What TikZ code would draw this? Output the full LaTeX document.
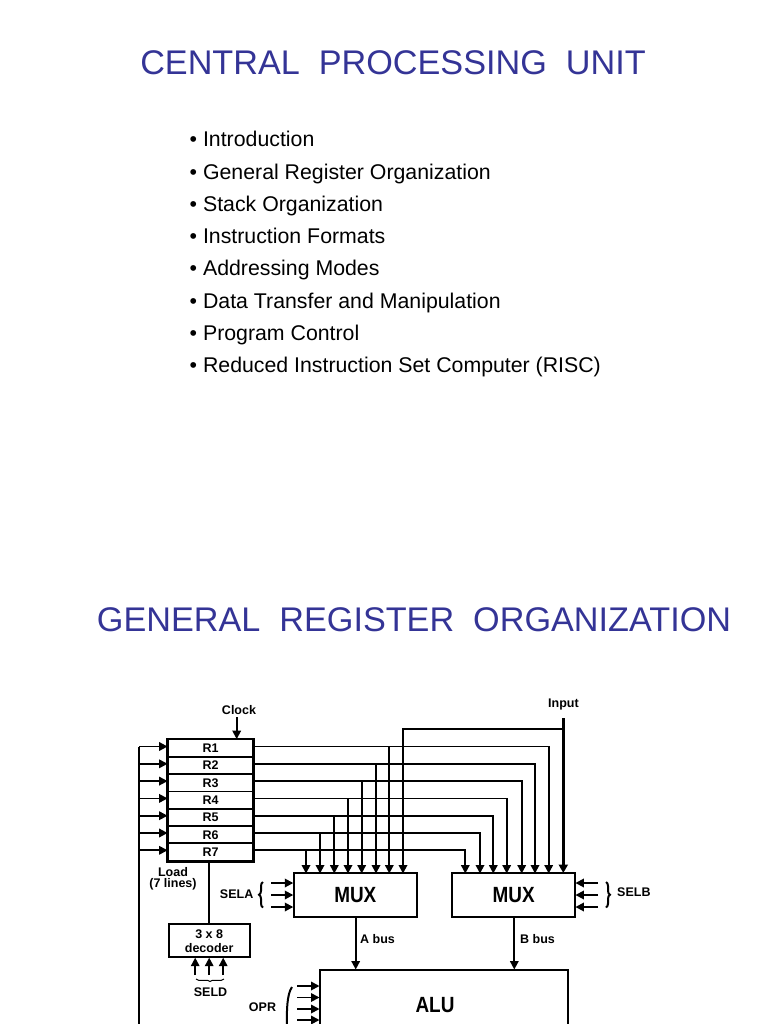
\documentclass[tikz,border=0pt]{standalone}
\usepackage{fontspec}
\setmainfont{Liberation Sans}
\usepackage{xcolor}
\usetikzlibrary{arrows.meta, calc, decorations.pathreplacing}
\definecolor{titleblue}{RGB}{52, 52, 150}
\tikzset{
  slidetitle/.style={text=titleblue, font=\fontsize{34.2}{40}\selectfont, inner sep=0pt},
  topic/.style={anchor=base west, font=\fontsize{21.3}{24}\selectfont, inner sep=0pt},
  smalltext/.style={font=\fontsize{12.5}{10.5}\selectfont\bfseries, inner sep=0pt, align=center},
  bigtext/.style={font=\fontsize{22}{24}\selectfont\bfseries, inner sep=0pt},
  regbox/.style={draw, line width=1.8pt, minimum width=85pt, minimum height=17.3pt, inner sep=0pt,
                 font=\fontsize{12.5}{11}\selectfont\bfseries},
  blockbox/.style={draw, line width=2pt, inner sep=0pt},
  wire/.style={line width=1.8pt},
  arr/.style={wire, -{Triangle[length=8.5pt, width=8.5pt]}, shorten >=-0.5pt},
  curly/.style={line width=2pt, decorate, decoration={brace, amplitude=4pt}},
}
\newcommand{\narrow}[1]{\scalebox{.86}[1]{#1}}
\begin{document}
\begin{tikzpicture}[x=1pt, y=-1pt]
  \useasboundingbox (0,0) rectangle (768,1024);

  % titles
  \node[slidetitle] (title1) at (393,62.5) {CENTRAL\ \ PROCESSING\ \ UNIT};
  \node[slidetitle] (title2) at (414,619.5) {GENERAL\ \ REGISTER\ \ ORGANIZATION};

  % list of topics
  \foreach \i/\t in {0/Introduction, 1/General Register Organization, 2/Stack Organization,
                     3/Instruction Formats, 4/Addressing Modes, 5/Data Transfer and Manipulation,
                     6/Program Control, 7/Reduced Instruction Set Computer (RISC)}
    \node[topic] (topic\i) at (189.5,{147+32.2*\i}) {• \t};

  % register file
  \foreach \r in {1,...,7}
    \node[regbox] (R\r) at (210.5,{748.2+17.3*(\r-1)}) {R\r};
  \draw[line width=2.2pt] (R1.north west) rectangle (R7.south east);

  % blocks
  \node[blockbox, minimum width=123pt, minimum height=44pt] (muxa) at (355.3,894.7) {\narrow{\fontsize{22}{24}\selectfont\bfseries MUX}};
  \node[blockbox, minimum width=122.5pt, minimum height=44pt] (muxb) at (513.7,894.7) {\narrow{\fontsize{22}{24}\selectfont\bfseries MUX}};
  \node[blockbox, minimum width=81pt, minimum height=33pt, font=\fontsize{12.5}{14}\selectfont\bfseries, align=center]
    (dec) at (209.2,940.7) {3 x 8\\decoder};
  \node[blockbox, minimum width=248pt, minimum height=100pt] (alu) at (444,1019.5) {};
  \node[bigtext] (alutext) at (435,1005) {\narrow{ALU}};

  % free ends
  \coordinate (clk) at (236.7,717);
  \coordinate (input) at (563.3,718);
  \coordinate (rail) at (139,746.5);
  \coordinate (railend) at (139,1030);
  \coordinate (abus) at (355.7,969);
  \coordinate (bbus) at (514.3,969);
  \coordinate (ain) at (403,873);
  \coordinate (bin) at (563.3,873);
  \coordinate (abranch) at (403,729.3);

  % clock, input
  \node[smalltext] (clocklabel) at (239,710) {Clock};
  \node[smalltext] (inputlabel) at (563.5,704) {Input};
  \draw[arr] (clk) -- (clk |- R1.north);
  \draw[wire, line width=2.8pt, -{Triangle[length=8.5pt, width=9pt]}] (input) -- (bin);
  \draw[arr] (input |- abranch) -- (abranch) -- (ain);

  % register outputs to both multiplexers
  \foreach \r/\xa/\xb in {1/389.3/548.7, 2/376/535, 3/361.7/521.7, 4/348/506.7,
                          5/334.3/493.3, 6/320/480, 7/306/465.3} {
    \coordinate (out\r) at ([yshift=1.7pt]R\r.east);
    \coordinate (A\r) at (\xa,873);
    \coordinate (B\r) at (\xb,873);
    \draw[arr] (out\r) -| (B\r);
    \draw[arr] (out\r -| A\r) -- (A\r);
  }

  % load lines
  \draw[wire] (rail) -- (railend);
  \foreach \r in {1,...,7} {
    \coordinate (load\r) at ([yshift=1.7pt]R\r.west);
    \draw[arr] (load\r -| rail) -- (load\r);
  }
  \draw[wire] (R7.south -| dec.north) -- (dec.north);
  \node[smalltext] (loadlabel) at (173,879) {Load\\(7 lines)};

  % decoder select
  \foreach \i/\x in {1/-14,2/0,3/14} {
    \coordinate (seld\i) at ($(dec.south)+(\x pt,-17pt)$);
    \draw[arr] (seld\i) -- (seld\i |- dec.south);
  }
  \draw[line width=1pt, decorate, decoration={brace, amplitude=2.5pt, mirror}]
    (196,979) -- (224,979);
  \node[smalltext] (seldlabel) at (210.5,992) {SELD};

  % mux selects
  \foreach \i/\y in {1/883,2/895,3/907} {
    \coordinate (sa\i) at (271,\y);
    \draw[arr] (sa\i) -- (sa\i -| muxa.west);
    \coordinate (sb\i) at (598,\y);
    \draw[arr] (sb\i) -- (sb\i -| muxb.east);
  }
  \draw[curly] (263,907.5) -- (263,882);
  \draw[curly] (606,882) -- (606,907.5);
  \node[smalltext, anchor=east] (selalabel) at (253.5,894) {SELA};
  \node[smalltext, anchor=west] (selblabel) at (617,892.5) {SELB};

  % buses
  \draw[arr] (abus |- muxa.south) -- (abus);
  \draw[arr] (bbus |- muxb.south) -- (bbus);
  \node[smalltext, anchor=west] (abuslabel) at (360,939.5) {A bus};
  \node[smalltext, anchor=west] (bbuslabel) at (520,939.5) {B bus};

  % operation select
  \foreach \i/\y in {1/986,2/997.5,3/1009,4/1020} {
    \coordinate (op\i) at (297,\y);
    \draw[arr] (op\i) -- (op\i -| alu.west);
  }
  \draw[line width=2pt] (292,987) .. controls (287,994) and (286.5,1010) .. (287,1030);
  \node[smalltext] (oprlabel) at (262.5,1007) {OPR};
\end{tikzpicture}
\end{document}
